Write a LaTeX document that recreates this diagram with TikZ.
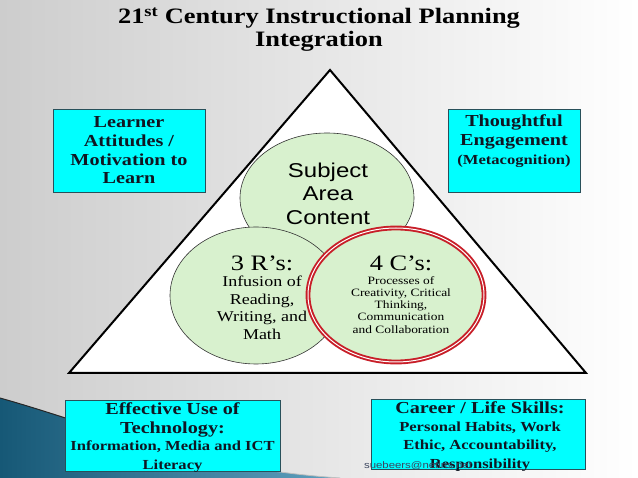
\documentclass[tikz,border=0pt]{standalone}
\usepackage{fontspec}
\setmainfont[FakeStretch=1.2]{Liberation Serif}
\newfontfamily\arialf[FakeStretch=1.2]{Liberation Sans}
\usetikzlibrary{calc}
\usetikzlibrary{positioning}
\usetikzlibrary{shapes.geometric}
\definecolor{boxcyan}{RGB}{0,255,255}
\definecolor{boxedge}{RGB}{40,80,90}
\definecolor{inkdark}{RGB}{16,22,34}
\definecolor{bubblegreen}{RGB}{216,241,206}
\definecolor{ringred}{RGB}{200,30,40}
\definecolor{bgdark}{RGB}{205,205,205}
\definecolor{swooshdark}{RGB}{22,88,118}
\definecolor{swooshlight}{RGB}{96,160,190}
\definecolor{markgray}{RGB}{60,70,95}
\tikzset{
   cbox/.style={draw=boxedge, fill=boxcyan, line width=0.8pt, inner sep=0pt},
   btxt/.style={align=center, text=inkdark, inner sep=0pt,
      font=\bfseries\fontsize{16.8}{18.7}\selectfont},
   bubble/.style={ellipse, draw=black!80, line width=0.6pt, fill=bubblegreen, inner sep=0pt},
   ring/.style={draw=ringred, double=white, double distance=1pt, line width=1.9pt},
   bbtxt/.style={align=center, text=black, inner sep=0pt},
   tri/.style={draw=black, fill=white, line width=2pt, line join=miter},
    }
\begin{document}
\begin{tikzpicture}[x=1pt,y=-1pt]
\useasboundingbox (0,0) rectangle (638,478);
\shade[left color=bgdark, right color=white] (0,0) rectangle (638,478);
\shade[left color=swooshdark, right color=swooshlight]
   (0,398) .. controls (50,412) and (100,430) .. (160,448)
   .. controls (220,464) and (280,474) .. (340,478) -- (0,478) -- cycle;
\draw[black!85, line width=1pt]
   (0,398) .. controls (50,412) and (100,430) .. (160,448);
\draw[black!25, line width=0.8pt]
   (160,448) .. controls (220,464) and (280,474) .. (340,478);

\node[bbtxt, font=\bfseries\fontsize{22}{23}\selectfont] (ttl) at (319,29.5)
   {21\textsuperscript{st} Century Instructional Planning\\Integration};

\coordinate (apex) at (330,70);
\coordinate (bl) at (69,373);
\coordinate (br) at (586,373);
\draw[tri] (apex) -- (bl) -- (br) -- cycle;

\node[bubble, minimum width=174pt, minimum height=130pt] (sac) at (327,198) {};
\node[bubble, minimum width=172pt, minimum height=137pt] (thr) at (256,295.5) {};
\node[bubble, ring, minimum width=176pt, minimum height=134pt] (fcs) at (396,295) {};

\node[bbtxt, font=\arialf\fontsize{20}{23.5}\selectfont] (sact) at (328,193.5)
   {Subject\\Area\\Content};
\node[bbtxt, font=\fontsize{22}{22}\selectfont] (thrh) at (262,263.5) {3 R’s:};
\node[bbtxt, font=\fontsize{15}{17.5}\selectfont, below=5pt of thrh] (thrt)
   {Infusion of\\Reading,\\Writing, and\\Math};
\node[bbtxt, font=\fontsize{22}{22}\selectfont] (fcsh) at (401,263.5) {4 C’s:};
\node[bbtxt, font=\fontsize{11.2}{12.2}\selectfont, below=5pt of fcsh] (fcst)
   {Processes of\\Creativity, Critical\\Thinking,\\Communication\\and Collaboration};

\node[cbox, minimum width=152pt, minimum height=83pt] (lam) at (129,150.5) {};
\node[btxt] (lamt) at (lam) {Learner\\Attitudes /\\Motivation to\\Learn};
\node[cbox, minimum width=132pt, minimum height=83pt] (teg) at (514,150.5) {};
\node[btxt, anchor=north] (tegt) at ($(teg.north)+(0,6)$)
   {Thoughtful\\Engagement\\{\fontsize{13.8}{16}\selectfont (Metacognition)}};
\node[cbox, minimum width=215pt, minimum height=71pt] (eut) at (172.5,435.5) {};
\node[btxt] (eutt) at ($(eut)+(0,2)$)
   {Effective Use of\\Technology:\\[-1pt]{\fontsize{13.8}{16}\selectfont Information, Media and ICT}\\{\fontsize{13.8}{15}\selectfont Literacy}};
\node[cbox, minimum width=214pt, minimum height=70pt] (cls) at (478,434.5) {};
\node[btxt] (clst) at ($(cls)+(2,2)$)
   {Career / Life Skills:\\[-1pt]{\fontsize{13.8}{17}\selectfont Personal Habits, Work}\\{\fontsize{13.8}{16.5}\selectfont Ethic, Accountability,}\\{\fontsize{13.8}{15}\selectfont Responsibility}};
\node[bbtxt, text=markgray, font=\arialf\fontsize{9.5}{10}\selectfont] (wm) at (418,466)
   {suebeers@netins.net};
\end{tikzpicture}
\end{document}
